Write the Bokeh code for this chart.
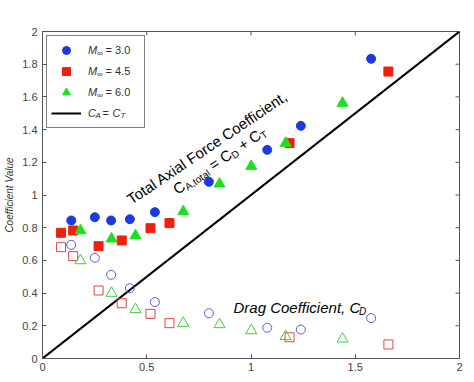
import math
from bokeh.plotting import figure
from bokeh.models import Range1d, FixedTicker, Label, Legend, LegendItem
from bokeh.core.properties import value
from bokeh.embed import file_html
from bokeh.resources import INLINE

# ---------------- data ----------------
m30_ct = [0.138, 0.251, 0.329, 0.419, 0.539, 0.798, 1.078, 1.239, 1.576]
m30_ca = [0.844, 0.864, 0.844, 0.852, 0.895, 1.081, 1.276, 1.423, 1.833]
m30_cd = [0.695, 0.616, 0.512, 0.430, 0.345, 0.277, 0.188, 0.177, 0.247]

m45_ct = [0.089, 0.147, 0.269, 0.380, 0.518, 0.609, 1.185, 1.659]
m45_ca = [0.769, 0.783, 0.687, 0.722, 0.797, 0.828, 1.317, 1.755]
m45_cd = [0.681, 0.626, 0.416, 0.338, 0.273, 0.216, 0.130, 0.086]

m60_ct = [0.182, 0.331, 0.446, 0.675, 0.849, 1.001, 1.166, 1.439]
m60_ca = [0.783, 0.732, 0.752, 0.899, 1.068, 1.176, 1.317, 1.562]
m60_cd = [0.599, 0.400, 0.300, 0.216, 0.208, 0.171, 0.135, 0.120]

ideal_x = [0, 2]
ideal_y = [0, 2]

x_ticks = [0, 0.5, 1, 1.5, 2]
x_tick_labels = ["0", "0.5", "1", "1.5", "2"]
y_ticks = [0, 0.2, 0.4, 0.6, 0.8, 1.0, 1.2, 1.4, 1.6, 1.8, 2.0]
y_tick_labels = ["0", "0.2", "0.4", "0.6", "0.8", "1", "1.2", "1.4", "1.6", "1.8", "2"]

mach_labels = ["3.0", "4.5", "6.0"]

FONT = "Liberation Sans"
BLUE, RED, GREEN = "#1b3ae6", "#f0200c", "#1fe01f"
BLUE_O, RED_O, GREEN_O = "#5a5ae0", "#e84040", "#3ccf3c"
AXIS_C = "#555555"

# frame geometry on the page (px), used for annotation placement
FX0, FX1, FY0, FY1 = 42, 459, 358, 31
W, H = 474, 382


def dx(px):
    return (px - FX0) / (FX1 - FX0) * 2.0


def dy(py):
    return (FY0 - py) / (FY0 - FY1) * 2.0


p = figure(width=W, height=H, x_range=Range1d(0, 2), y_range=Range1d(0, 2),
           output_backend="svg", toolbar_location=None,
           min_border_left=FX0, min_border_right=W - FX1,
           min_border_top=FY1, min_border_bottom=H - FY0)
p.grid.visible = False
p.outline_line_color = AXIS_C
p.background_fill_color = "white"
p.border_fill_color = "white"

p.xaxis.ticker = FixedTicker(ticks=x_ticks)
p.xaxis.major_label_overrides = {t: l for t, l in zip(x_ticks, x_tick_labels)}
p.yaxis.ticker = FixedTicker(ticks=y_ticks)
p.yaxis.major_label_overrides = {t: l for t, l in zip(y_ticks, y_tick_labels)}

for ax in p.axis:
    ax.axis_line_color = AXIS_C
    ax.major_tick_line_color = AXIS_C
    ax.major_tick_in = 4
    ax.major_tick_out = 0
    ax.minor_tick_line_color = None
    ax.major_label_text_font = FONT
    ax.major_label_text_font_size = "11px"
    ax.major_label_text_color = "#444444"

p.xaxis.major_label_standoff = 4
p.yaxis.major_label_standoff = 5
p.yaxis.axis_label = "Coefficient Value"
p.yaxis.axis_label_text_font = FONT
p.yaxis.axis_label_text_font_size = "10px"
p.yaxis.axis_label_text_font_style = "italic"
p.yaxis.axis_label_text_color = "#333333"
p.yaxis.axis_label_standoff = 4

# inward ticks on the top and right edges of the box (MATLAB style)
tick_dx = 4 * 2.0 / (FX1 - FX0)
tick_dy = 4 * 2.0 / (FY0 - FY1)
p.segment(x0=x_ticks, y0=[2.0] * len(x_ticks), x1=x_ticks, y1=[2.0 - tick_dy] * len(x_ticks),
          line_color=AXIS_C, line_width=1)
p.segment(x0=[2.0] * len(y_ticks), y0=y_ticks, x1=[2.0 - tick_dx] * len(y_ticks), y1=y_ticks,
          line_color=AXIS_C, line_width=1)

# ideal line
r_line = p.line(ideal_x, ideal_y, line_color="black", line_width=2)

# total axial force (filled)
r_b = p.scatter(m30_ct, m30_ca, marker="circle", size=9, fill_color=BLUE, line_color=BLUE)
r_r = p.scatter(m45_ct, m45_ca, marker="square", size=9, fill_color=RED, line_color=RED)
r_g = p.scatter(m60_ct, m60_ca, marker="triangle", size=11, fill_color=GREEN, line_color=GREEN)

# drag (open)
p.scatter(m30_ct, m30_cd, marker="circle", size=9, fill_color=None, line_color=BLUE_O, line_width=1)
p.scatter(m45_ct, m45_cd, marker="square", size=9, fill_color=None, line_color=RED_O, line_width=1)
p.scatter(m60_ct, m60_cd, marker="triangle", size=11, fill_color=None, line_color=GREEN_O, line_width=1)

legend = Legend(items=[LegendItem(label=value("M"), renderers=[r_b]),
                       LegendItem(label=value("M"), renderers=[r_r]),
                       LegendItem(label=value("M"), renderers=[r_g]),
                       LegendItem(label=value("C"), renderers=[r_line])],
                location="top_left", margin=4, padding=4, spacing=1,
                glyph_width=30, glyph_height=20, label_height=20, label_width=52,
                label_standoff=7, border_line_color="black", border_line_width=1,
                background_fill_alpha=0.0,
                label_text_font=FONT, label_text_font_size="11px",
                label_text_font_style="italic", label_text_color="#333333")
p.add_layout(legend)


def lab(px, py, text, size, style="normal", angle=0.0, xo=0.0, yo=0.0,
        baseline="alphabetic", align="left", color="black"):
    p.add_layout(Label(x=dx(px), y=dy(py), text=text, text_font=FONT,
                       text_font_size=f"{size}px", text_font_style=style,
                       angle=angle, x_offset=xo, y_offset=yo,
                       text_baseline=baseline, text_align=align, text_color=color))


# rest of the legend texts (after the italic M / C drawn by the legend)
LX = 87
for cy, mach in zip([49, 70, 91], mach_labels):
    lab(LX + 9.5, cy + 3.5, "\u221e", 8, baseline="middle", color="#333333")
    lab(LX + 18, cy, "= " + mach, 11, baseline="middle", color="#333333")
lab(LX + 8, 115, "A", 8, "italic", baseline="middle", color="#333333")
lab(LX + 15, 112, "=", 11, baseline="middle", color="#333333")
lab(LX + 25, 112, "C", 11, "italic", baseline="middle", color="#333333")
lab(LX + 33, 115, "T", 8, "italic", baseline="middle", color="#333333")

# rotated annotation
TH = math.radians(34)
lab(128, 200, "Total Axial Force Coefficient,", 15, angle=TH)
# (text, size, subscript shift, advance along the baseline)
runs = [("C", 15, 0, 0.0), ("A,total", 10, 4, 10.8), ("= C", 15, 0, 43.4),
        ("D", 10, 4, 67.1), ("+ C", 15, 0, 78.5), ("T", 10, 4, 102.3)]
for txt, sz, sh, along in runs:
    xo = along * math.cos(TH) + sh * math.sin(TH)
    yo = along * math.sin(TH) - sh * math.cos(TH)
    lab(174, 190, txt, sz, angle=TH, xo=xo, yo=yo)

# drag annotation
lab(233, 307, "Drag Coefficient, C", 15, "italic")
lab(233 + 125.5, 311, "D", 10, "italic")

# x-axis title, cut by the bottom of the picture as in the reference
lab(182, 375.5, "Thrust Coefficient, C", 12, "italic", baseline="top")
lab(182 + 109.5, 379.5, "T", 8, "italic", baseline="top")

open("out.html", "w").write(file_html(p, INLINE))
